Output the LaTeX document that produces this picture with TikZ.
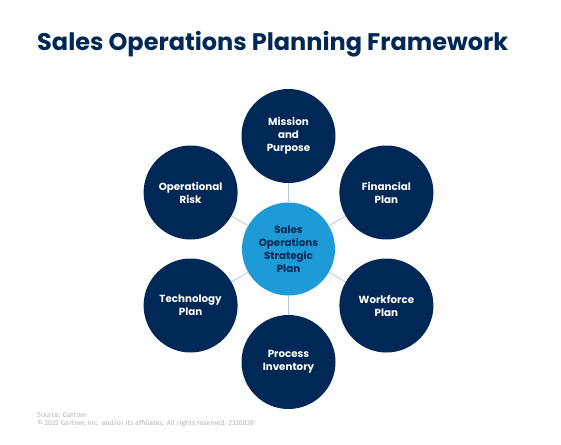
\documentclass[tikz,border=0pt]{standalone}
\usepackage{fontspec}
\setmainfont{Fira Sans}
\newfontfamily\headfont{Poppins}
\usepackage{tikz}
\usetikzlibrary{positioning,calc}

\definecolor{navy}{HTML}{002856}
\definecolor{skyblue}{HTML}{1E9BD7}
\definecolor{spoke}{HTML}{B8C8D8}
\definecolor{note}{HTML}{B4B4B4}

\begin{document}
\begin{tikzpicture}[%
		x=1pt,
		y=-1pt,
		node distance=1cm,
		hub/.style={%
			circle,
			fill=skyblue,
			minimum size=93pt,
			inner sep=0pt,
			align=center,
			text=navy,
			font=\headfont\fontsize{10.3}{13}\selectfont\bfseries
		},
		part/.style={%
			circle,
			fill=navy,
			minimum size=94pt,
			inner sep=0pt,
			align=center,
			text=white,
			font=\headfont\fontsize{10.3}{13}\selectfont\bfseries
		},
		spokeline/.style={%
			draw=spoke,
			line width=0.8pt
		}
		]
		\useasboundingbox (0,0) rectangle (561,444);
		\node[anchor=base west, text=navy, inner sep=0pt, font=\headfont\fontsize{24}{28}\selectfont\bfseries] (title) at (37,51) {Sales Operations Planning Framework};
		
		\coordinate (mid) at (288.5,249);
		\node[part] (mission)    at ($(mid)+(0,-113)$)     {Mission\\and\\Purpose};
		\node[part] (financial)  at ($(mid)+(97.9,-56.5)$) {Financial\\Plan};
		\node[part] (workforce)  at ($(mid)+(97.9,56.5)$)  {Workforce\\Plan};
		\node[part] (process)    at ($(mid)+(0,113)$)      {Process\\Inventory};
		\node[part] (technology) at ($(mid)+(-97.9,56.5)$) {Technology\\Plan};
		\node[part] (risk)       at ($(mid)+(-97.9,-56.5)$){Operational\\Risk};
		\node[hub]  (hub)        at (mid)                  {Sales\\Operations\\Strategic\\Plan};
		
		\path[spokeline] (hub) edge (mission)
		(hub) edge (financial)
		(hub) edge (workforce)
		(hub) edge (process)
		(hub) edge (technology)
		(hub) edge (risk);
		
		\node[anchor=north west, text=note, inner sep=0pt, align=left, font=\fontsize{7}{8.5}\selectfont] (source) at (37,412) {Source: Gartner\\\textcopyright{} 2022 Gartner, Inc. and/or its affiliates. All rights reserved. 2320838};
\end{tikzpicture}
\end{document}
